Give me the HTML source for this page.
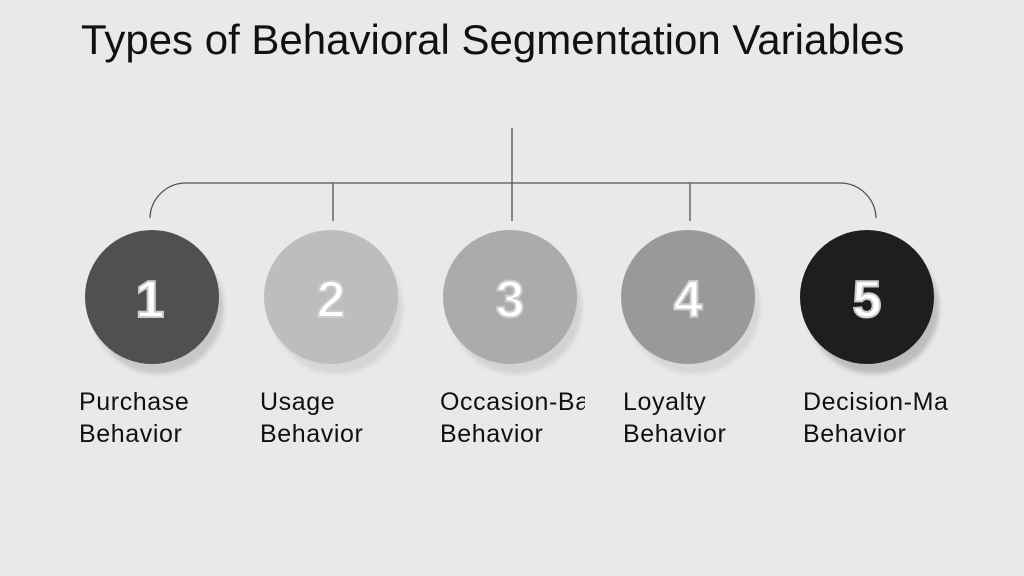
<!DOCTYPE html>
<html><head><meta charset="utf-8"><style>
body{margin:0;width:1024px;height:576px;background:#e9e9e9;overflow:hidden;font-family:"Liberation Sans",sans-serif}
.t{position:absolute;left:81px;top:16px;font-size:42px;color:#111;white-space:nowrap}
.l{position:absolute;top:386px;font-size:25px;letter-spacing:0.6px;line-height:32px;color:#111;width:145px;overflow:hidden;white-space:nowrap}
</style></head><body>
<svg width="1024" height="576" style="position:absolute;left:0;top:0">
<defs><filter id="g"><feGaussianBlur stdDeviation="2.5"/></filter></defs>
<g stroke="#555" stroke-width="1.3" fill="none">
<line x1="512" y1="128" x2="512" y2="221"/>
<path d="M150 218 A36 36 0 0 1 186 183 L840 183 A36 36 0 0 1 876 218"/>
<line x1="333" y1="183" x2="333" y2="221"/>
<line x1="690" y1="183" x2="690" y2="221"/>
</g>
<g>
<circle cx="158" cy="308" r="66" fill="#c8c8c8" filter="url(#g)"/><circle cx="152" cy="297" r="67" fill="#505050"/>
<circle cx="337" cy="308" r="66" fill="#d6d6d6" filter="url(#g)"/><circle cx="331" cy="297" r="67" fill="#bdbdbd"/>
<circle cx="516" cy="308" r="66" fill="#d2d2d2" filter="url(#g)"/><circle cx="510" cy="297" r="67" fill="#ababab"/>
<circle cx="694" cy="308" r="66" fill="#d6d6d6" filter="url(#g)"/><circle cx="688" cy="297" r="67" fill="#999"/>
<circle cx="873" cy="308" r="66" fill="#bdbdbd" filter="url(#g)"/><circle cx="867" cy="297" r="67" fill="#1e1e1e"/>
</g>
<g font-family="Liberation Sans" font-weight="bold" font-size="52" fill="#fff" stroke="#ccc" stroke-width="2" text-anchor="middle">
<text x="150" y="317">1</text><text x="331" y="317">2</text><text x="510" y="317">3</text><text x="688" y="317">4</text><text x="867" y="317">5</text>
</g>
</svg>
<div class="t">Types of Behavioral Segmentation Variables</div>
<div class="l" style="left:79px">Purchase<br>Behavior</div>
<div class="l" style="left:260px">Usage<br>Behavior</div>
<div class="l" style="left:440px">Occasion-Based<br>Behavior</div>
<div class="l" style="left:623px">Loyalty<br>Behavior</div>
<div class="l" style="left:803px">Decision-Making<br>Behavior</div>
</body></html>
